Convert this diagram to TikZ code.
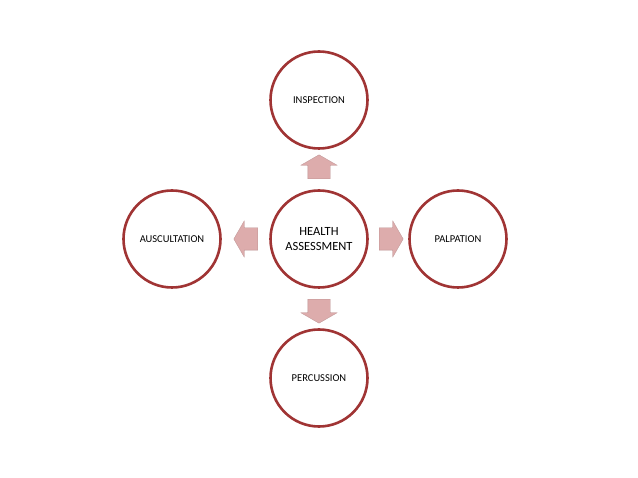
\documentclass[tikz,border=0pt]{standalone}
\usepackage{fontspec}
\setmainfont{Carlito}
\usetikzlibrary{shapes.arrows}

\definecolor{ringred}{RGB}{160,52,52}
\definecolor{arrowpink}{RGB}{221,172,172}

\tikzset{
  stage/.style={circle, draw=ringred, line width=2.6pt, fill=white,
    minimum size=97pt, inner sep=0pt, align=center, font=\fontsize{10.5}{12}\selectfont},
  pointer/.style={single arrow, fill=arrowpink, draw=arrowpink!85!black, line width=0.3pt,
    minimum height=24pt, minimum width=36pt, single arrow head extend=7pt,
    single arrow tip angle=120, inner xsep=0pt, inner ysep=11pt}
}

\begin{document}
\begin{tikzpicture}[x=1pt, y=-1pt]
  \useasboundingbox (0,0) rectangle (638,478);

  \coordinate (c) at (319, 239);

  \node[stage, font=\fontsize{12.5}{15}\selectfont] (health) at (c) {HEALTH\\ASSESSMENT};
  \node[stage] (insp) at (319, 100) {INSPECTION};
  \node[stage] (perc) at (319, 378) {PERCUSSION};
  \node[stage] (ausc) at (172, 239) {AUSCULTATION};
  \node[stage] (palp) at (458, 239) {PALPATION};

  \node[pointer, rotate=90]  (up)    at (319, 170) {};
  \node[pointer, rotate=-90] (down)  at (319, 308) {};
  \node[pointer, rotate=180] (left)  at (249, 239) {};
  \node[pointer]             (right) at (388, 239) {};
\end{tikzpicture}
\end{document}
